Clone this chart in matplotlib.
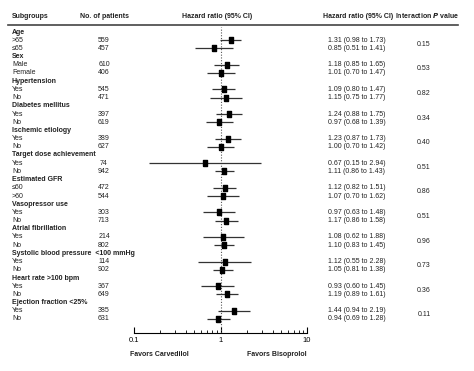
import numpy as np
import matplotlib.pyplot as plt
from matplotlib.lines import Line2D
from matplotlib.transforms import blended_transform_factory

plt.rcParams['font.family'] = ['Liberation Sans', 'DejaVu Sans']

groups = ["Age", "Sex", "Hypertension", "Diabetes mellitus", "Ischemic etiology",
          "Target dose achievement", "Estimated GFR", "Vasopressor use",
          "Atrial fibrillation", "Systolic blood pressure  <100 mmHg",
          "Heart rate >100 bpm", "Ejection fraction <25%"]
subgroups = [(">65", "\u226465"), ("Male", "Female"), ("Yes", "No"), ("Yes", "No"),
             ("Yes", "No"), ("Yes", "No"), ("\u226460", ">60"), ("Yes", "No"),
             ("Yes", "No"), ("Yes", "No"), ("Yes", "No"), ("Yes", "No")]
patients = [559, 457, 610, 406, 545, 471, 397, 619, 389, 627, 74, 942,
            472, 544, 303, 713, 214, 802, 114, 902, 367, 649, 385, 631]
hr = [1.31, 0.85, 1.18, 1.01, 1.09, 1.15, 1.24, 0.97, 1.23, 1.00, 0.67, 1.11,
      1.12, 1.07, 0.97, 1.17, 1.08, 1.10, 1.12, 1.05, 0.93, 1.19, 1.44, 0.94]
ci_lo = [0.98, 0.51, 0.85, 0.70, 0.80, 0.75, 0.88, 0.68, 0.87, 0.70, 0.15, 0.86,
         0.82, 0.70, 0.63, 0.86, 0.62, 0.83, 0.55, 0.81, 0.60, 0.89, 0.94, 0.69]
ci_hi = [1.73, 1.41, 1.65, 1.47, 1.47, 1.77, 1.75, 1.39, 1.73, 1.42, 2.94, 1.43,
         1.51, 1.62, 1.48, 1.58, 1.88, 1.45, 2.28, 1.38, 1.45, 1.61, 2.19, 1.28]
p_int = ["0.15", "0.53", "0.82", "0.34", "0.40", "0.51",
         "0.86", "0.51", "0.96", "0.73", "0.36", "0.11"]

W, H = 474, 371
fig = plt.figure(figsize=(W / 100, H / 100), dpi=100)


def fx(px):
    return px / W


def fy(py):
    return 1 - py / H


# axes placed by pixel: x from 134 to 307, y from 27 to 333
row_px = 8.2
ax = fig.add_axes([fx(134), fy(333), fx(307) - fx(134), (333 - 27) / H])
ax.set_xscale('log')
ax.set_xlim(0.1, 10)
ax.set_ylim(35 + (333 - 319) / row_px, -(32 - 27) / row_px)

tr = blended_transform_factory(fig.transFigure, ax.transData)
txt = '#222222'
fs = 5

ax.axvline(1, color='#555555', lw=0.8, ls=(0, (1, 1.5)))

rows_y = []
for g in range(len(groups)):
    base = g * 3
    ax.text(fx(12), base, groups[g], transform=tr, fontsize=fs, fontweight='bold',
            va='center', ha='left', color=txt)
    for k in range(2):
        i = g * 2 + k
        y = base + 1 + k
        rows_y.append(y)
        ax.text(fx(12), y, subgroups[g][k], transform=tr, fontsize=fs,
                va='center', ha='left', color=txt)
        ax.text(fx(104), y, str(patients[i]), transform=tr, fontsize=fs,
                va='center', ha='center', color=txt)
        ax.text(fx(357), y, "%.2f (%.2f to %.2f)" % (hr[i], ci_lo[i], ci_hi[i]),
                transform=tr, fontsize=fs, va='center', ha='center', color=txt)
    ax.text(fx(424), base + 1.5, p_int[g], transform=tr, fontsize=fs,
            va='center', ha='center', color=txt)

rows_y = np.array(rows_y)
ax.hlines(rows_y, ci_lo, ci_hi, color='#333333', lw=0.9)
box = [(-0.75, -1), (0.75, -1), (0.75, 1), (-0.75, 1), (-0.75, -1)]
ax.plot(hr, rows_y, marker=box, color='black', markersize=4.2, ls='none')

for s in ['top', 'left', 'right']:
    ax.spines[s].set_visible(False)
ax.spines['bottom'].set_linewidth(0.8)
ax.set_yticks([])
ax.set_xticks([0.1, 1, 10])
ax.set_xticklabels(["0.1", "1", "10"])
ax.tick_params(axis='x', which='major', direction='in', length=4, width=0.8,
               labelsize=5.5, pad=3)
ax.tick_params(axis='x', which='minor', direction='in', length=2, width=0.6)

# header
hy = fy(16)
fig.text(fx(12), hy, "Subgroups", fontsize=fs, fontweight='bold', va='center', ha='left', color=txt)
fig.text(fx(104), hy, "No. of patients", fontsize=fs, fontweight='bold', va='center', ha='center', color=txt)
fig.text(fx(217), hy, "Hazard ratio (95% CI)", fontsize=fs, fontweight='bold', va='center', ha='center', color=txt)
fig.text(fx(358), hy, "Hazard ratio (95% CI)", fontsize=fs, fontweight='bold', va='center', ha='center', color=txt)
fig.text(fx(427), hy, r"Interaction $\mathbfit{P}$ value", fontsize=fs, fontweight='bold',
         va='center', ha='center', color=txt)
fig.add_artist(Line2D([fx(8), fx(458)], [fy(25), fy(25)], transform=fig.transFigure,
                      color='#444444', lw=1.2))

# footer
fig.text(fx(159), fy(354), "Favors Carvedilol", fontsize=fs, fontweight='bold',
         va='center', ha='center', color=txt)
fig.text(fx(277), fy(354), "Favors Bisoprolol", fontsize=fs, fontweight='bold',
         va='center', ha='center', color=txt)

fig.savefig("out.png", dpi=100)
